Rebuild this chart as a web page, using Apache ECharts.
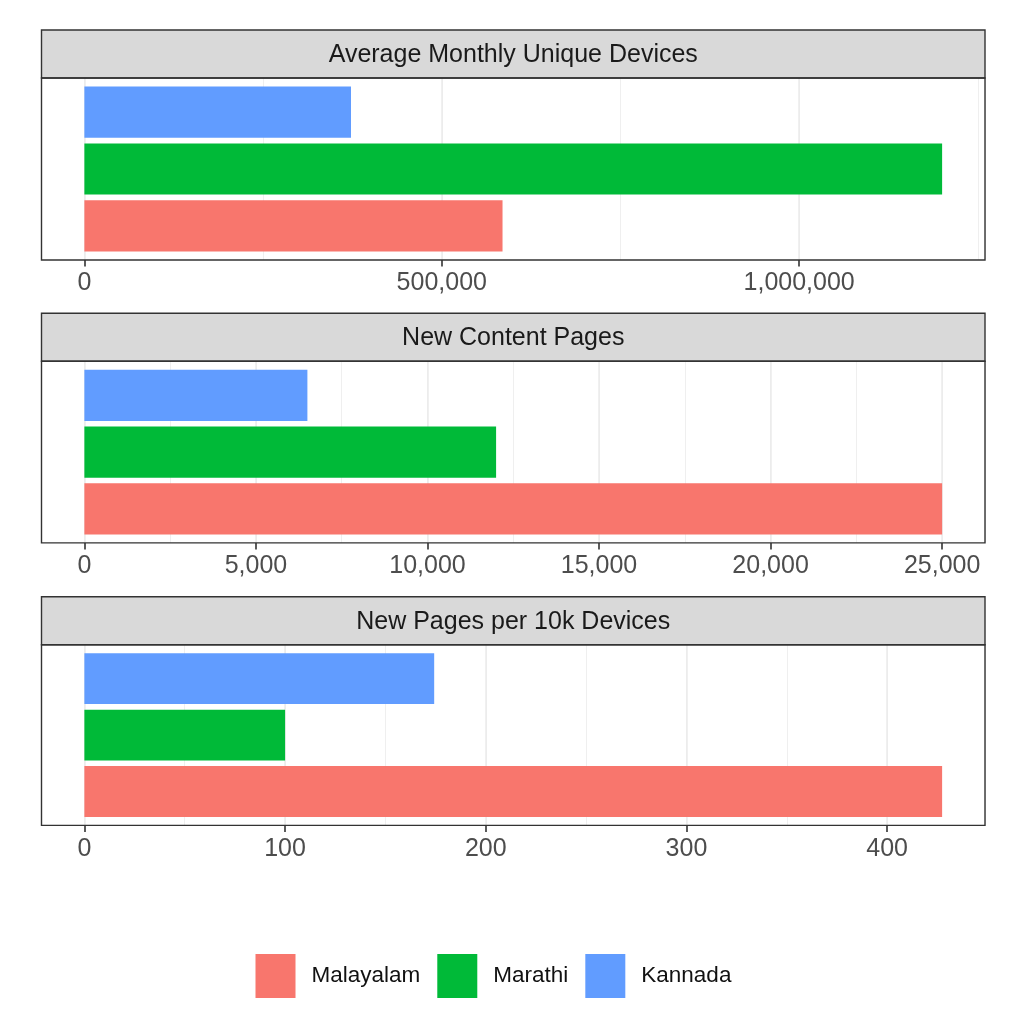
<!DOCTYPE html>
<html><head><meta charset="utf-8">
<script src="https://cdn.jsdelivr.net/npm/echarts@6/dist/echarts.min.js"></script>
<style>html,body{margin:0;padding:0;background:#fff}#chart{width:1024px;height:1015px}</style>
</head><body><div id="chart"></div>
<script>
// ---- data ----
const languages = ['Malayalam', 'Marathi', 'Kannada'];
const facetTitles = ['Average Monthly Unique Devices', 'New Content Pages', 'New Pages per 10k Devices'];
const uniqueDevices = [585000, 1200000, 373000];
const newContentPages = [25000, 12000, 6500];
const pagesPer10k = [427.4, 100, 174.3];
const majorTicks1 = [0, 500000, 1000000];
const majorTicks2 = [0, 5000, 10000, 15000, 20000, 25000];
const majorTicks3 = [0, 100, 200, 300, 400];
const majorSteps = [500000, 5000, 100];
const minorSteps = [250000, 2500, 50];

// ---- style / layout ----
const palette = ['#F8766D', '#00BA38', '#619CFF'];
const FONT = '"Liberation Sans", Arial, Helvetica, sans-serif';
const PANEL_L = 41.5, PANEL_R = 985;
const stripTops = [30, 313.3, 596.7];
const STRIP_H = 48;
const panelHs = [182, 181.6, 180.7];
const EXPAND = 0.05;

const facetValues = [uniqueDevices, newContentPages, pagesPer10k];
const facetTicks = [majorTicks1, majorTicks2, majorTicks3];

const grids = [], xAxes = [], yAxes = [], series = [], graphics = [];
facetValues.forEach((vals, p) => {
  const dataMax = Math.max(...vals);
  const axisMax = dataMax * (1 + EXPAND);
  const panelTop = stripTops[p] + STRIP_H;
  const panelH = panelHs[p];
  const fullW = PANEL_R - PANEL_L;
  const zeroX = PANEL_L + fullW * EXPAND / (1 + 2 * EXPAND);
  const w = PANEL_R - zeroX;
  const band = panelH / (languages.length - 1 + 1.2);
  const ticks = facetTicks[p];
  const lastTick = ticks[ticks.length - 1];

  // minor gridlines: full value range
  const gMin = grids.length;
  grids.push({ left: zeroX, top: panelTop, width: w, height: panelH });
  xAxes.push({
    type: 'value', gridIndex: gMin, min: 0, max: axisMax, interval: minorSteps[p],
    axisLine: { show: false }, axisTick: { show: false }, axisLabel: { show: false },
    splitLine: { show: true, lineStyle: { color: '#EBEBEB', width: 0.8 } }, z: 0
  });
  yAxes.push({ type: 'value', gridIndex: gMin, show: false, min: 0, max: 1 });

  // major gridlines, ticks, labels: range 0..last major tick
  const gMaj = grids.length;
  grids.push({ left: zeroX, top: panelTop, width: w * lastTick / axisMax, height: panelH });
  xAxes.push({
    type: 'value', gridIndex: gMaj, min: 0, max: lastTick, interval: majorSteps[p],
    axisLine: { show: false },
    axisTick: { show: true, length: 6.5, lineStyle: { color: '#333333', width: 1.6 } },
    axisLabel: {
      show: true, margin: 11, fontSize: 25, color: '#4D4D4D', fontFamily: FONT,
      formatter: v => v.toLocaleString('en-US')
    },
    splitLine: { show: true, lineStyle: { color: '#EBEBEB', width: 1.5 } }, z: 1
  });
  yAxes.push({ type: 'value', gridIndex: gMaj, show: false, min: 0, max: 1 });

  // grid for bars
  const gB = grids.length;
  grids.push({ left: zeroX, top: panelTop + 0.1 * band, width: w, height: languages.length * band });
  const xB = xAxes.length;
  xAxes.push({ type: 'value', gridIndex: gB, min: 0, max: axisMax, show: false });
  const yB = yAxes.length;
  yAxes.push({ type: 'category', gridIndex: gB, data: languages, show: false });

  languages.forEach((lang, i) => {
    series.push({
      name: lang, type: 'bar', xAxisIndex: xB, yAxisIndex: yB,
      barWidth: 0.9 * band, barGap: '-100%',
      data: languages.map((_, j) => (j === i ? vals[i] : null)),
      itemStyle: { color: palette[i], borderWidth: 0 }, z: 3
    });
  });

  // strip + panel border
  graphics.push({
    type: 'rect', z: 10,
    shape: { x: PANEL_L, y: stripTops[p], width: fullW, height: STRIP_H },
    style: { fill: '#D9D9D9', stroke: '#333333', lineWidth: 1.4 }
  });
  graphics.push({
    type: 'text', z: 11, x: (PANEL_L + PANEL_R) / 2, y: stripTops[p] + STRIP_H / 2 + 1,
    style: { text: facetTitles[p], fontSize: 25, fontFamily: FONT, fill: '#1A1A1A', align: 'center', verticalAlign: 'middle' }
  });
  graphics.push({
    type: 'rect', z: 10,
    shape: { x: PANEL_L, y: panelTop, width: fullW, height: panelH },
    style: { fill: 'none', stroke: '#333333', lineWidth: 1.4 }
  });
});

const chart = echarts.init(document.getElementById('chart'), null, { renderer: 'canvas' });
chart.setOption({
  animation: false,
  backgroundColor: '#FFFFFF',
  textStyle: { fontFamily: FONT },
  grid: grids, xAxis: xAxes, yAxis: yAxes, series: series,
  graphic: { elements: graphics },
  legend: {
    data: languages, left: 250.5, top: 949, orient: 'horizontal',
    itemWidth: 40, itemHeight: 44, itemGap: 17, icon: 'rect',
    itemStyle: { borderWidth: 0 },
    textStyle: { fontSize: 22.5, color: '#111111', fontFamily: FONT, padding: [0, 0, 0, 11] }
  }
});
</script></body></html>
